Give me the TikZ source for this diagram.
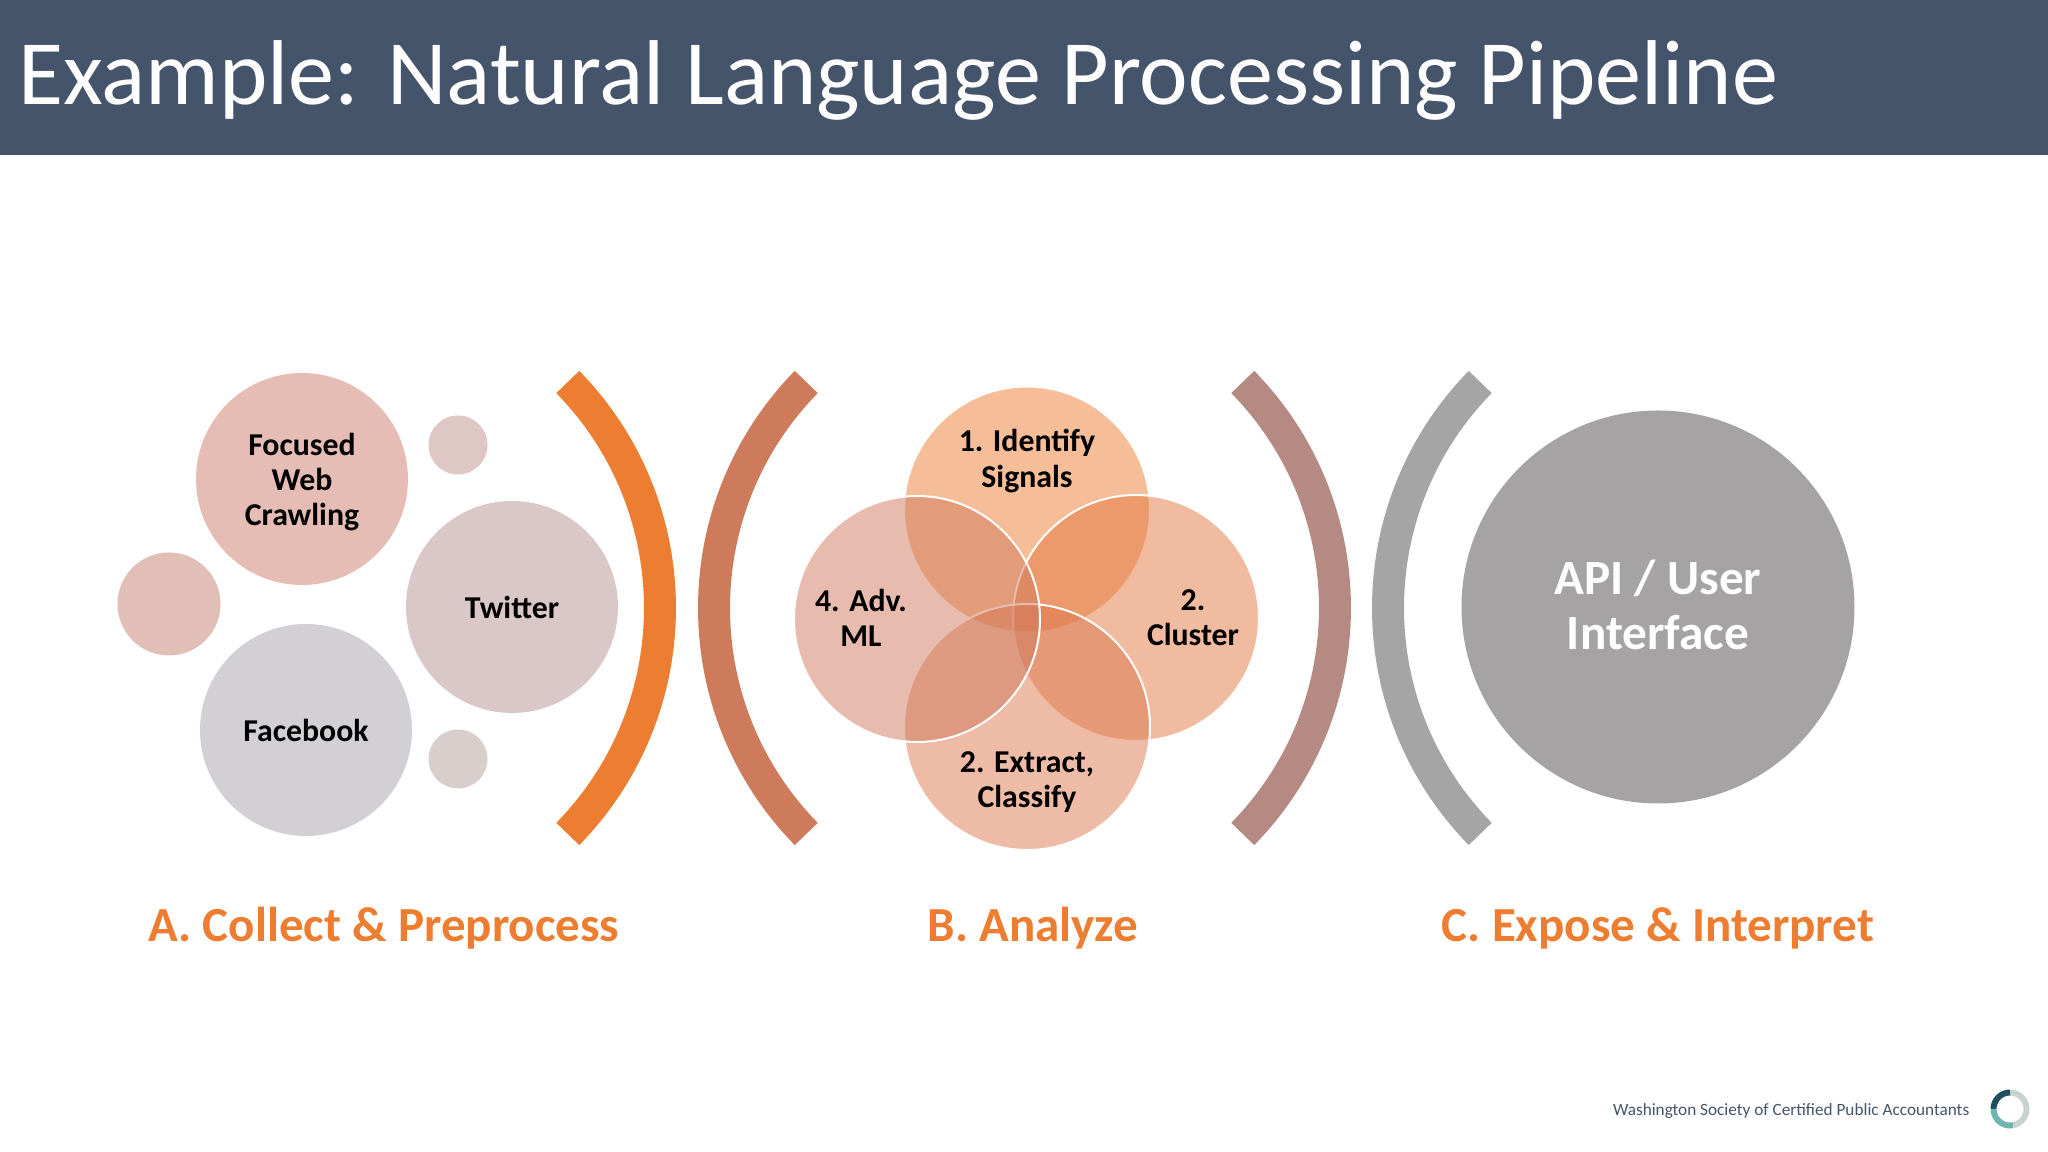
\documentclass[tikz,border=0pt]{standalone}
\usepackage{fontspec}
\setmainfont{Carlito}
\definecolor{headerblue}{HTML}{44546A}
\definecolor{accentorange}{HTML}{ED7D31}
\definecolor{arcterra}{HTML}{CE7B5C}
\definecolor{arcmauve}{HTML}{B58A82}
\definecolor{arcgray}{HTML}{A5A5A5}
\definecolor{fillfocused}{HTML}{E5BDB5}
\definecolor{filltwitter}{HTML}{DAC8C8}
\definecolor{fillfacebook}{HTML}{D2D0D4}
\definecolor{fillleft}{HTML}{E1BFB7}
\definecolor{filltop}{HTML}{DEC7C4}
\definecolor{fillbottom}{HTML}{D8CFCC}
\definecolor{petalcluster}{HTML}{E37741}
\definecolor{petalextract}{HTML}{DB774D}
\definecolor{petaladv}{HTML}{CF7A5E}
\definecolor{fillapi}{HTML}{A5A3A4}
\definecolor{ringlight}{HTML}{C8D2D0}
\definecolor{ringdark}{HTML}{1F4E5F}
\definecolor{ringteal}{HTML}{6FB5B0}
\tikzset{
	bubble/.style={circle, inner sep=0pt, outer sep=0pt, minimum size=2.12cm, align=center, font=\fontsize{9.05}{10}\selectfont\bfseries},
	speck/.style={circle, inner sep=0pt, outer sep=0pt},
	petal/.style={circle, inner sep=0pt, outer sep=0pt, minimum size=2.46cm, draw=white, line width=0.02cm, fill opacity=0.5},
	petaltext/.style={align=center, font=\fontsize{9.05}{10}\selectfont\bfseries},
	bracket/.style={line width=0.32cm},
	stagetext/.style={text=accentorange, font=\fontsize{13.95}{16}\selectfont\bfseries},
	ringarc/.style={line width=0.06cm},
}

\begin{document}
\begin{tikzpicture}
	\useasboundingbox (0,0) rectangle (20.48,11.52);

	%Header
	\fill[headerblue] (0,9.97) rectangle (20.48,11.52);
	\node (title) at (0.18,10.72) [anchor=west, inner sep=0pt, text=white] {\fontsize{26.2}{30}\selectfont Example: Natural Language Processing Pipeline};

	%A. Bubbles
	\node (focused) at (3.02,6.73) [bubble, fill=fillfocused] {};
	\node (focusedtext) at (3.02,6.70) [petaltext] {Focused\\Web\\Crawling};
	\node (twitter) at (5.12,5.45) [bubble, fill=filltwitter] {Twitter};
	\node (facebook) at (3.06,4.22) [bubble, fill=fillfacebook] {Facebook};
	\node (speckleft) at (1.69,5.48) [speck, minimum size=1.03cm, fill=fillleft] {};
	\node (specktop) at (4.58,7.07) [speck, minimum size=0.59cm, fill=filltop] {};
	\node (speckbottom) at (4.58,3.93) [speck, minimum size=0.59cm, fill=fillbottom] {};

	%Arcs
	\draw[bracket, accentorange] ([shift={(-44.4:3.23)}]3.37,5.44) arc[start angle=-44.4, end angle=44.4, radius=3.23];
	\draw[bracket, arcterra] ([shift={(135.6:3.23)}]10.37,5.44) arc[start angle=135.6, end angle=224.4, radius=3.23];
	\draw[bracket, arcmauve] ([shift={(-44.4:3.23)}]10.12,5.44) arc[start angle=-44.4, end angle=44.4, radius=3.23];
	\draw[bracket, arcgray] ([shift={(135.6:3.23)}]17.11,5.44) arc[start angle=135.6, end angle=224.4, radius=3.23];

	%B. Petals
	\node (identify) at (10.27,6.425) [petal, fill=accentorange] {};
	\node (cluster) at (11.36,5.34) [petal, fill=petalcluster] {};
	\node (extract) at (10.27,4.25) [petal, fill=petalextract] {};
	\node (advml) at (9.17,5.33) [petal, fill=petaladv] {};

	\node (identifytext) at (10.27,6.91) [petaltext] {1. Identify\\Signals};
	\node (clustertext) at (11.93,5.34) [petaltext] {2.\\Cluster};
	\node (extracttext) at (10.27,3.70) [petaltext] {2. Extract,\\Classify};
	\node (advmltext) at (8.61,5.34) [petaltext] {4. Adv.\\ML};

	%C. Interface
	\node (api) at (16.58,5.45) [circle, inner sep=0pt, minimum size=3.93cm, fill=fillapi] {};
	\node (apitext) at (16.58,5.47) [align=center, text=white, font=\fontsize{14}{15.6}\selectfont\bfseries] {API / User\\Interface};

	%Stage labels
	\node (stagea) at (3.84,2.24) [stagetext] {A. Collect \& Preprocess};
	\node (stageb) at (10.33,2.24) [stagetext] {B. Analyze};
	\node (stagec) at (16.58,2.24) [stagetext] {C. Expose \& Interpret};

	%Footer
	\node (footer) at (19.70,0.41) [anchor=east, inner sep=0pt, text=headerblue] {\fontsize{4.9}{6}\selectfont Washington Society of Certified Public Accountants};
	\coordinate (ring) at (20.10,0.43);
	\draw[ringarc, ringlight] ([shift={(-80:0.165)}]ring) arc[start angle=-80, end angle=90, radius=0.165];
	\draw[ringarc, ringdark] ([shift={(90:0.165)}]ring) arc[start angle=90, end angle=180, radius=0.165];
	\draw[ringarc, ringteal] ([shift={(180:0.165)}]ring) arc[start angle=180, end angle=280, radius=0.165];

\end{tikzpicture}
\end{document}
